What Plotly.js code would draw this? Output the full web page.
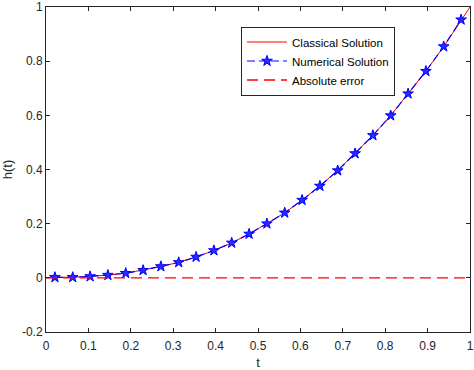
<!DOCTYPE html>
<html><head><meta charset="utf-8">
<script src="https://cdn.plot.ly/plotly-3.0.1.min.js"></script>
<style>html,body{margin:0;padding:0;background:#fff}#plot{width:474px;height:370px}</style>
</head><body><div id="plot"></div>
<script>
// Numerical solution sample points
const tNum = [0.021,0.063,0.104,0.146,0.188,0.229,0.271,0.313,0.354,0.396,0.438,0.479,0.521,0.563,0.604,0.646,0.688,0.729,0.771,0.813,0.854,0.896,0.938,0.979];
const hNum = [0.002,0.002,0.005,0.010,0.017,0.028,0.042,0.057,0.077,0.101,0.129,0.162,0.200,0.240,0.287,0.339,0.396,0.459,0.526,0.599,0.680,0.763,0.854,0.953];
// Classical solution curve
const tCls = [0,0.021,0.063,0.104,0.146,0.188,0.229,0.271,0.313,0.354,0.396,0.438,0.479,0.521,0.563,0.604,0.646,0.688,0.729,0.771,0.813,0.854,0.896,0.938,0.979,1];
const hCls = [0,0.002,0.002,0.005,0.010,0.017,0.028,0.042,0.057,0.077,0.101,0.129,0.162,0.200,0.240,0.287,0.339,0.396,0.459,0.526,0.599,0.680,0.763,0.854,0.953,1.0];
// Absolute error
const tErr = [0,0.25,0.5,0.75,1];
const hErr = [0,0,0,0,0];

const xTicks = [0,0.1,0.2,0.3,0.4,0.5,0.6,0.7,0.8,0.9,1];
const xLabels = ['0','0.1','0.2','0.3','0.4','0.5','0.6','0.7','0.8','0.9','1'];
const yTicks = [-0.2,0,0.2,0.4,0.6,0.8,1];
const yLabels = ['-0.2','0','0.2','0.4','0.6','0.8','1'];

const axisCol = '#262626';
const fam = '"Liberation Sans", Arial, sans-serif';
const font = {family:fam, size:12, color:axisCol};

const traces = [
  {x:tCls, y:hCls, mode:'lines', name:'Classical Solution', line:{color:'#ff0000', width:1}},
  {x:tNum, y:hNum, mode:'lines+markers', name:'Numerical Solution', line:{color:'#0000ff', width:1.2, dash:'8px,4px'},
   marker:{symbol:'star', size:8, color:'#2a2aff', line:{color:'#0000ff', width:1}}},
  {x:tErr, y:hErr, mode:'lines', name:'Absolute error', line:{color:'#ff0000', width:1.3, dash:'11px,6px'}}
];

const ax = {
  showgrid:false, zeroline:false, showline:true, mirror:'ticks', linecolor:axisCol, linewidth:1,
  ticks:'inside', ticklen:4, tickcolor:axisCol, tickfont:font, ticklabeloverflow:'allow'
};

const layout = {
  width:474, height:370,
  margin:{l:46, r:4, t:7, b:38},
  paper_bgcolor:'#fff', plot_bgcolor:'#fff',
  font: font,
  showlegend:true,
  legend:{x:0.46, y:0.94, xanchor:'left', yanchor:'top', bgcolor:'#fff', bordercolor:axisCol, borderwidth:1,
          font:{family:fam, size:11.5, color:'#000'}, tracegroupgap:0, itemwidth:40},
  xaxis:Object.assign({}, ax, {range:[0,1], tickvals:xTicks, ticktext:xLabels, ticklabelstandoff:3,
    title:{text:'t', font:{family:fam, size:13, color:axisCol}, standoff:6}}),
  yaxis:Object.assign({}, ax, {range:[-0.2,1], tickvals:yTicks, ticktext:yLabels,
    title:{text:'h(t)', font:{family:fam, size:13, color:axisCol}, standoff:6}})
};

Plotly.newPlot('plot', traces, layout, {displayModeBar:false, staticPlot:true});
</script></body></html>
